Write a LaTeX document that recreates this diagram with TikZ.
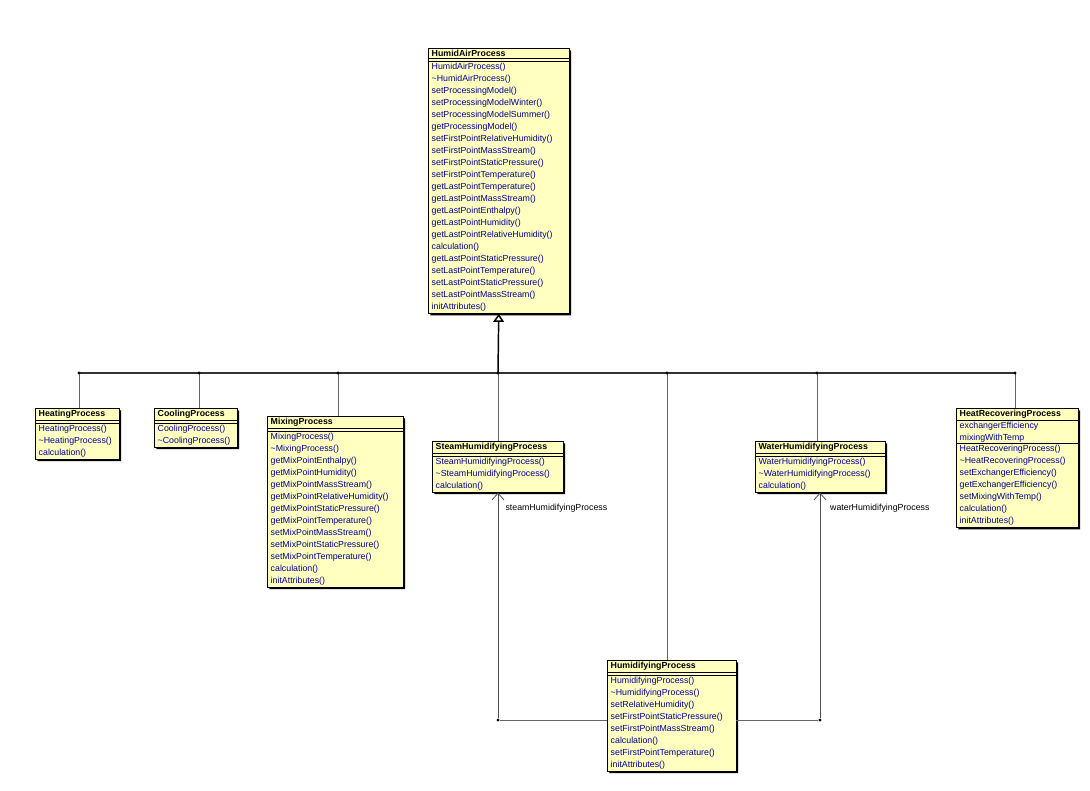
\documentclass[tikz,border=0pt]{standalone}
\usepackage{fontspec}
\setmainfont{Liberation Sans}
\usetikzlibrary{shapes.multipart,shadows,arrows.meta}
\definecolor{boxfill}{RGB}{255,255,192}
\definecolor{membertext}{RGB}{0,0,150}
\tikzset{
  umlclass/.style={rectangle split, rectangle split parts=3, draw=black, fill=boxfill,
    anchor=north west, inner xsep=2.5pt, inner ysep=1pt, line width=0.6pt,
    drop shadow={shadow xshift=1.5pt, shadow yshift=-1.5pt, fill=black, opacity=1},
    rectangle split part align={center,left,left},
    font=\fontsize{6.6}{9}\selectfont, text=membertext},
  bus/.style={line width=1.1pt, draw=black!80},
  drop/.style={line width=0.6pt, draw=black!60},
  inh/.style={-{Triangle[open,length=6pt,width=8pt]}, line width=1.1pt},
  assoc/.style={draw=black!70, line width=0.6pt, -{Straight Barb[length=5pt,width=9pt]}},
  lbl/.style={font=\fontsize{6.6}{9}\selectfont, anchor=west},
  dot/.style={circle, fill=black, inner sep=0pt, minimum size=2.5pt}
}
\newcommand{\ttl}[1]{\textbf{\color{black}#1}}
\begin{document}
\begin{tikzpicture}[x=0.75pt,y=-0.75pt]
\useasboundingbox (0,0) rectangle (1090,791);

\node[umlclass, text width=134*0.75pt] (hap) at (428,48) {\ttl{HumidAirProcess}\nodepart{two}\nodepart{three}HumidAirProcess()\\ \textasciitilde HumidAirProcess()\\ setProcessingModel()\\ setProcessingModelWinter()\\ setProcessingModelSummer()\\ getProcessingModel()\\ setFirstPointRelativeHumidity()\\ setFirstPointMassStream()\\ setFirstPointStaticPressure()\\ setFirstPointTemperature()\\ getLastPointTemperature()\\ getLastPointMassStream()\\ getLastPointEnthalpy()\\ getLastPointHumidity()\\ getLastPointRelativeHumidity()\\ calculation()\\ getLastPointStaticPressure()\\ setLastPointTemperature()\\ setLastPointStaticPressure()\\ setLastPointMassStream()\\ initAttributes()};

\node[umlclass, text width=77*0.75pt] (heat) at (35,408) {\ttl{HeatingProcess}\nodepart{two}\nodepart{three}HeatingProcess()\\ \textasciitilde HeatingProcess()\\ calculation()};

\node[umlclass, text width=76*0.75pt] (cool) at (154,408) {\ttl{CoolingProcess}\nodepart{two}\nodepart{three}CoolingProcess()\\ \textasciitilde CoolingProcess()};

\node[umlclass, text width=129*0.75pt] (mix) at (267,416) {\ttl{MixingProcess}\nodepart{two}\nodepart{three}MixingProcess()\\ \textasciitilde MixingProcess()\\ getMixPointEnthalpy()\\ getMixPointHumidity()\\ getMixPointMassStream()\\ getMixPointRelativeHumidity()\\ getMixPointStaticPressure()\\ getMixPointTemperature()\\ setMixPointMassStream()\\ setMixPointStaticPressure()\\ setMixPointTemperature()\\ calculation()\\ initAttributes()};

\node[umlclass, text width=124*0.75pt] (steam) at (432,441) {\ttl{SteamHumidifyingProcess}\nodepart{two}\nodepart{three}SteamHumidifyingProcess()\\ \textasciitilde SteamHumidifyingProcess()\\ calculation()};

\node[umlclass, text width=123*0.75pt] (water) at (755,441) {\ttl{WaterHumidifyingProcess}\nodepart{two}\nodepart{three}WaterHumidifyingProcess()\\ \textasciitilde WaterHumidifyingProcess()\\ calculation()};

\node[umlclass, text width=115*0.75pt] (hrp) at (956,408) {\ttl{HeatRecoveringProcess}\nodepart{two}exchangerEfficiency\\ mixingWithTemp\nodepart{three}HeatRecoveringProcess()\\ \textasciitilde HeatRecoveringProcess()\\ setExchangerEfficiency()\\ getExchangerEfficiency()\\ setMixingWithTemp()\\ calculation()\\ initAttributes()};

\node[umlclass, text width=122*0.75pt] (hum) at (607,660) {\ttl{HumidifyingProcess}\nodepart{two}\nodepart{three}HumidifyingProcess()\\ \textasciitilde HumidifyingProcess()\\ setRelativeHumidity()\\ setFirstPointStaticPressure()\\ setFirstPointMassStream()\\ calculation()\\ setFirstPointTemperature()\\ initAttributes()};

% inheritance bus
\coordinate (bl) at (79,373);
\coordinate (br) at (1015,373);
\coordinate (bm) at (498,373);
\draw[bus] (bl) -- (br);
\draw[inh] (bm) -- (hap.south);
\foreach \n/\xx in {heat/79,cool/199,mix/338,steam/498,hum/667,water/817,hrp/1015}{
  \draw[drop] (\xx,373) -- (\xx,373 |- \n.north);
  \node[dot] at (\xx,373) {};
}

% associations
\node[dot] (js) at (498,720) {};
\node[dot] (jw) at (820,720) {};
\draw[drop] (hum.west |- js) -- (js);
\draw[drop] (hum.east |- jw) -- (jw);
\draw[assoc] (js) -- (js |- steam.south) node[lbl, pos=0.93, xshift=2pt] {steamHumidifyingProcess};
\draw[assoc] (jw) -- (jw |- water.south) node[lbl, pos=0.93, xshift=4pt] {waterHumidifyingProcess};
\end{tikzpicture}
\end{document}
